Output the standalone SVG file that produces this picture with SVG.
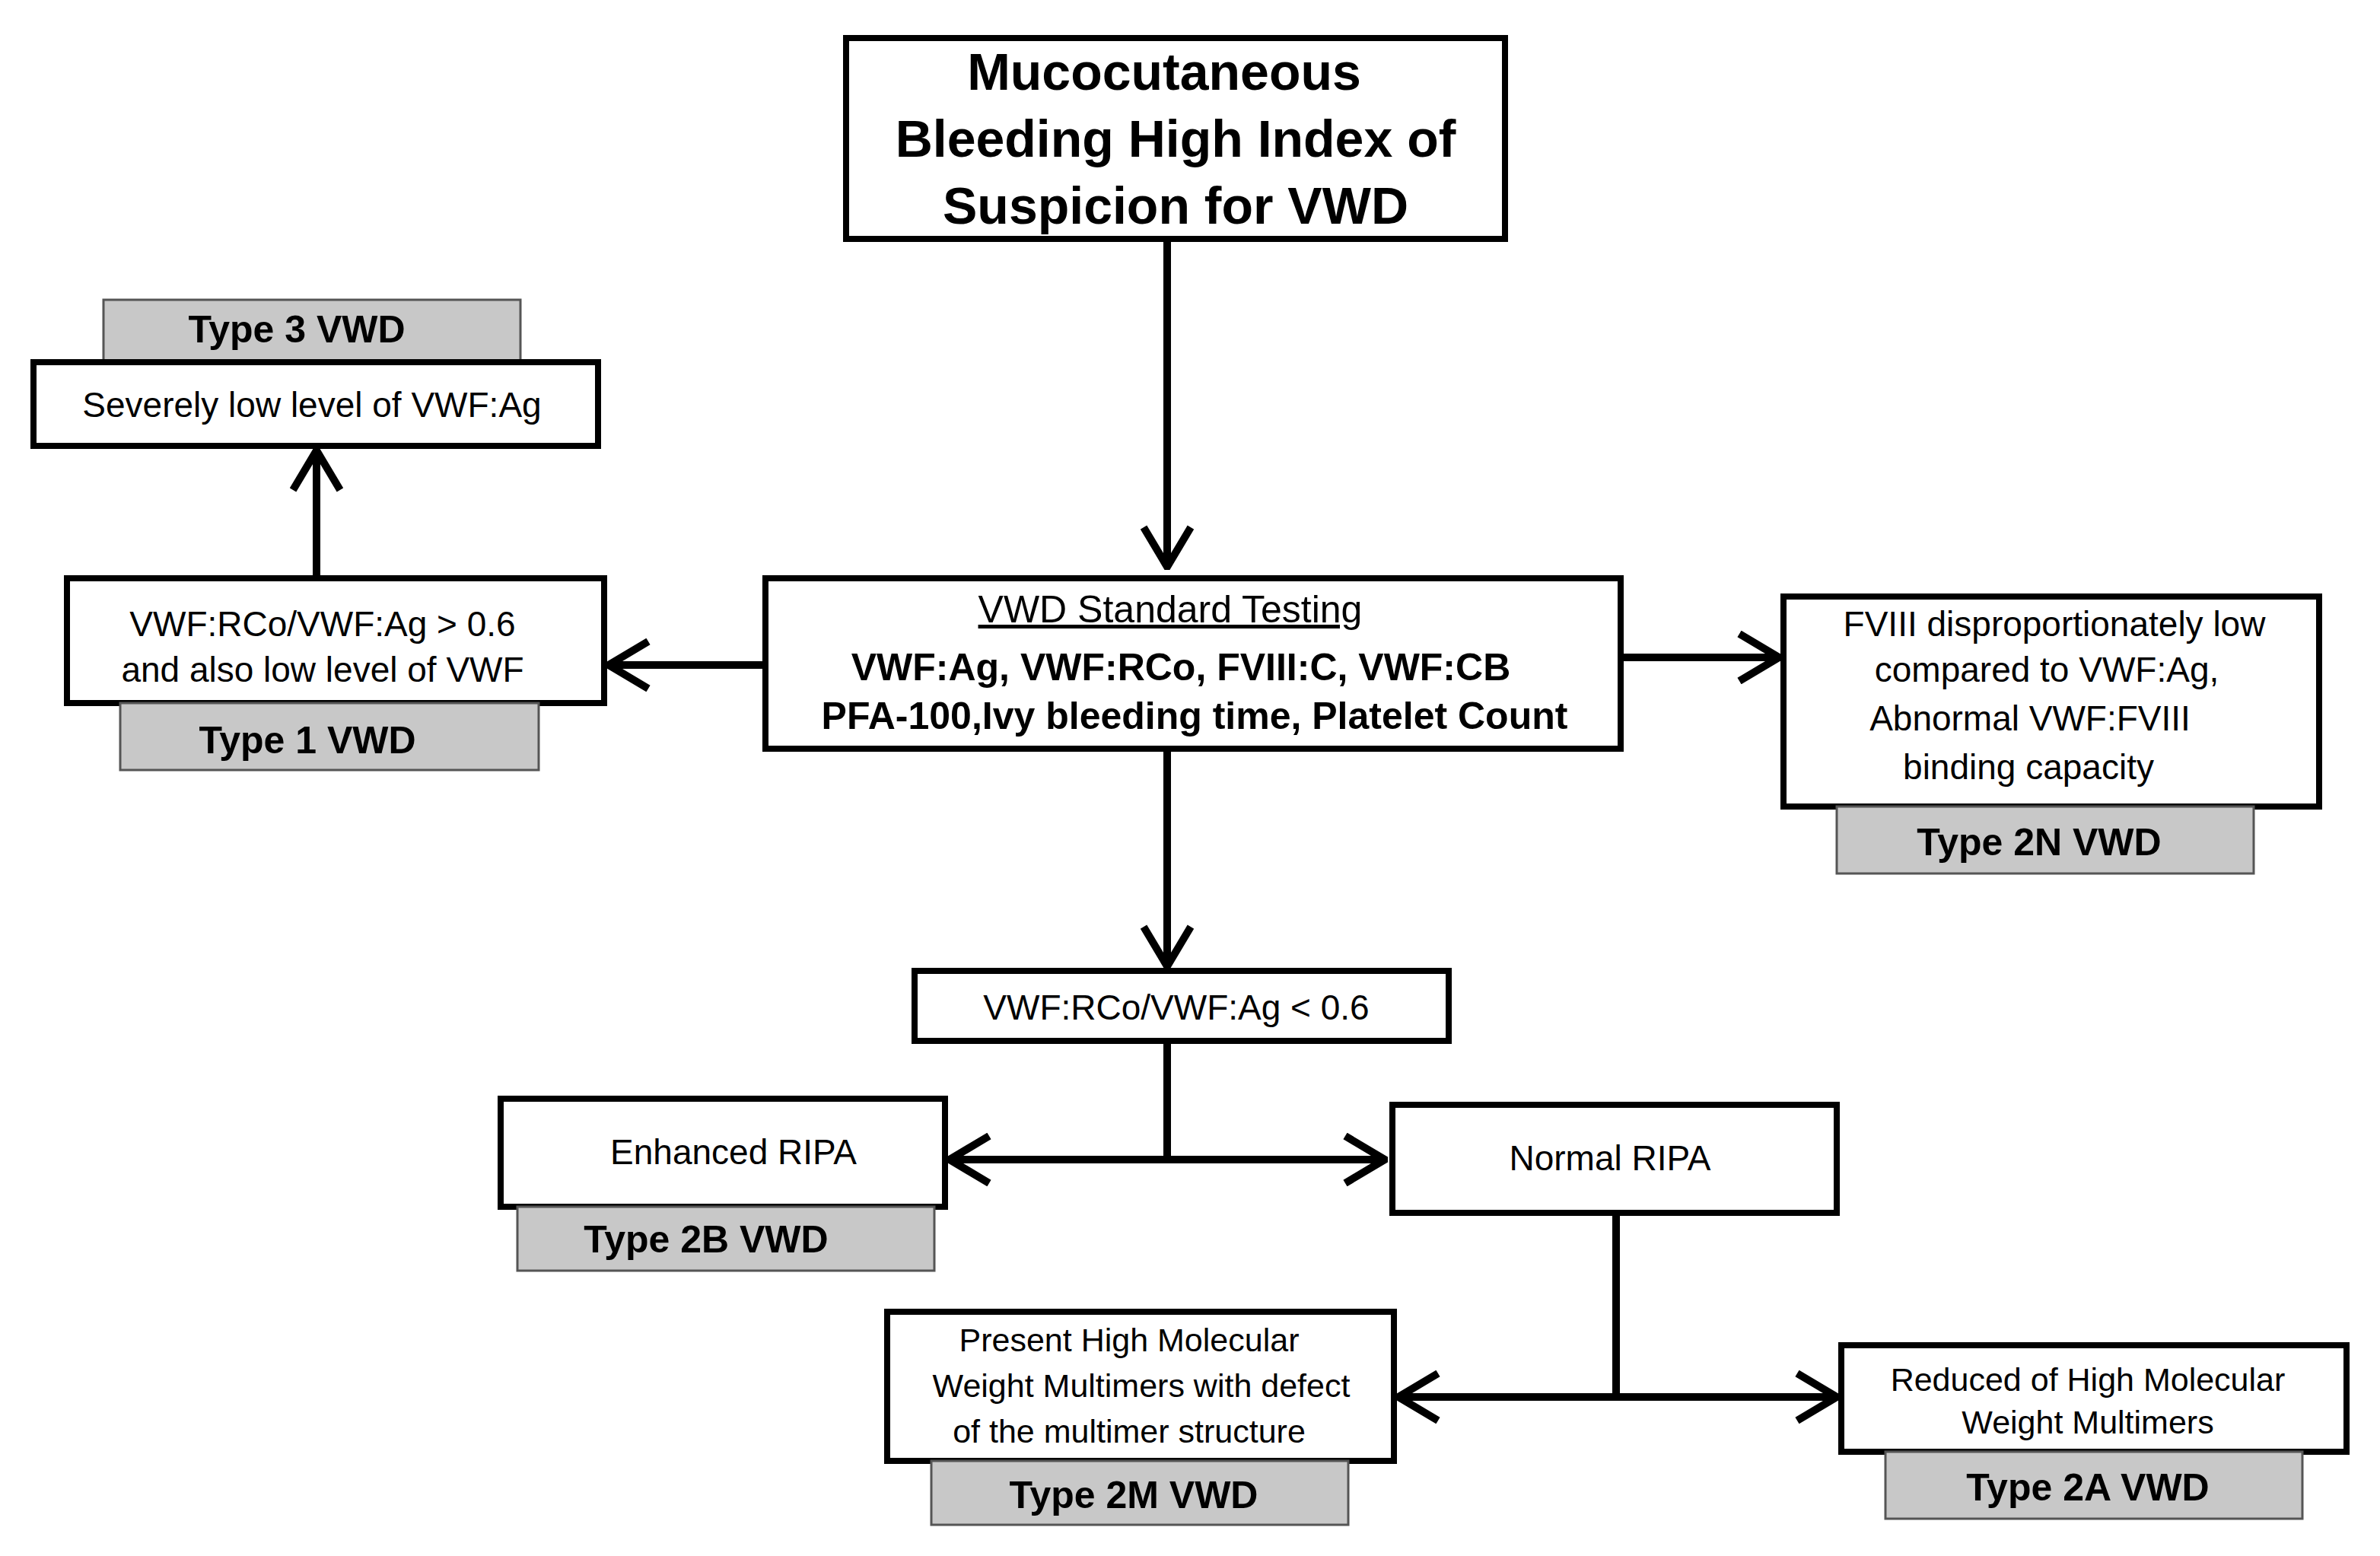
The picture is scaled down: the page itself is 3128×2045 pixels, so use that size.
<svg xmlns="http://www.w3.org/2000/svg" width="3128" height="2045" viewBox="0 0 3128 2045">
<style>
.box{fill:#fff;stroke:#000;stroke-width:8}
.lab{fill:#c8c8c8;stroke:#555;stroke-width:3}
.t{font-family:"Liberation Sans",Arial,sans-serif;font-size:46px;fill:#000;text-anchor:middle}
.s{font-size:43px}
.b{font-weight:bold;font-size:50px}
.h{font-weight:bold;font-size:68px}
.c{fill:none;stroke:#000;stroke-width:10}
</style>
<defs>
<marker id="a" viewBox="0 0 60 70" markerWidth="60" markerHeight="70" markerUnits="userSpaceOnUse" refX="56" refY="35" orient="auto-start-reverse">
<path d="M4,4 L56,35 L4,66" fill="none" stroke="#000" stroke-width="10"/>
</marker>
</defs>
<rect width="3128" height="2045" fill="#fff"/>
<g id="connectors">
<path class="c" d="M1534,314 V745" marker-end="url(#a)"/>
<path class="c" d="M1006,874 H800" marker-end="url(#a)"/>
<path class="c" d="M416,760 V592" marker-end="url(#a)"/>
<path class="c" d="M2130,864 H2338" marker-end="url(#a)"/>
<path class="c" d="M1534,984 V1270" marker-end="url(#a)"/>
<path class="c" d="M1534,1368 V1524"/>
<path class="c" d="M1248,1524 H1820" marker-start="url(#a)" marker-end="url(#a)"/>
<path class="c" d="M2124,1594 V1836"/>
<path class="c" d="M1838,1836 H2414" marker-start="url(#a)" marker-end="url(#a)"/>
</g>
<g id="top"><rect class="box" x="1112" y="50" width="866" height="264"/>
<text class="t h" x="1530" y="118">Mucocutaneous</text>
<text class="t h" x="1545" y="206">Bleeding High Index of</text>
<text class="t h" x="1545" y="294">Suspicion for VWD</text></g>
<g id="std"><rect class="box" x="1006" y="760" width="1124" height="224"/>
<text class="t b" x="1538" y="818" style="font-weight:normal;text-decoration:underline">VWD Standard Testing</text>
<text class="t b" x="1552" y="894">VWF:Ag, VWF:RCo, FVIII:C, VWF:CB</text>
<text class="t b" x="1570" y="958">PFA-100,Ivy bleeding time, Platelet Count</text></g>
<g id="type1"><rect class="box" x="88" y="760" width="706" height="164"/>
<text class="t" x="424" y="836">VWF:RCo/VWF:Ag &gt; 0.6</text>
<text class="t" x="424" y="896">and also low level of VWF</text>
<rect class="lab" x="158" y="924" width="550" height="88"/>
<text class="t b" x="404" y="990">Type 1 VWD</text></g>
<g id="type3"><rect class="lab" x="136" y="394" width="548" height="82"/>
<text class="t b" x="390" y="450">Type 3 VWD</text>
<rect class="box" x="44" y="476" width="742" height="110"/>
<text class="t" x="410" y="548">Severely low level of VWF:Ag</text></g>
<g id="type2n"><rect class="box" x="2344" y="784" width="704" height="276"/>
<text class="t" x="2700" y="836">FVIII disproportionately low</text>
<text class="t" x="2690" y="896">compared to VWF:Ag,</text>
<text class="t" x="2668" y="960">Abnormal VWF:FVIII</text>
<text class="t" x="2666" y="1024">binding capacity</text>
<rect class="lab" x="2414" y="1060" width="548" height="88"/>
<text class="t b" x="2680" y="1124">Type 2N VWD</text></g>
<g id="ratio"><rect class="box" x="1202" y="1276" width="702" height="92"/>
<text class="t" x="1546" y="1340">VWF:RCo/VWF:Ag &lt; 0.6</text></g>
<g id="type2b"><rect class="box" x="658" y="1444" width="584" height="142"/>
<text class="t" x="964" y="1530">Enhanced  RIPA</text>
<rect class="lab" x="680" y="1586" width="548" height="84"/>
<text class="t b" x="928" y="1646">Type 2B VWD</text></g>
<g id="normal"><rect class="box" x="1830" y="1452" width="584" height="142"/>
<text class="t" x="2116" y="1538">Normal RIPA</text></g>
<g id="type2m"><rect class="box" x="1166" y="1724" width="666" height="196"/>
<text class="t s" x="1484" y="1776">Present High Molecular</text>
<text class="t s" x="1500" y="1836">Weight Multimers with defect</text>
<text class="t s" x="1484" y="1896">of the multimer structure</text>
<rect class="lab" x="1224" y="1920" width="548" height="84"/>
<text class="t b" x="1490" y="1982">Type 2M VWD</text></g>
<g id="type2a"><rect class="box" x="2420" y="1768" width="664" height="140"/>
<text class="t s" x="2744" y="1828">Reduced of High Molecular</text>
<text class="t s" x="2744" y="1884">Weight Multimers</text>
<rect class="lab" x="2478" y="1908" width="548" height="88"/>
<text class="t b" x="2744" y="1972">Type 2A VWD</text></g>
</svg>
